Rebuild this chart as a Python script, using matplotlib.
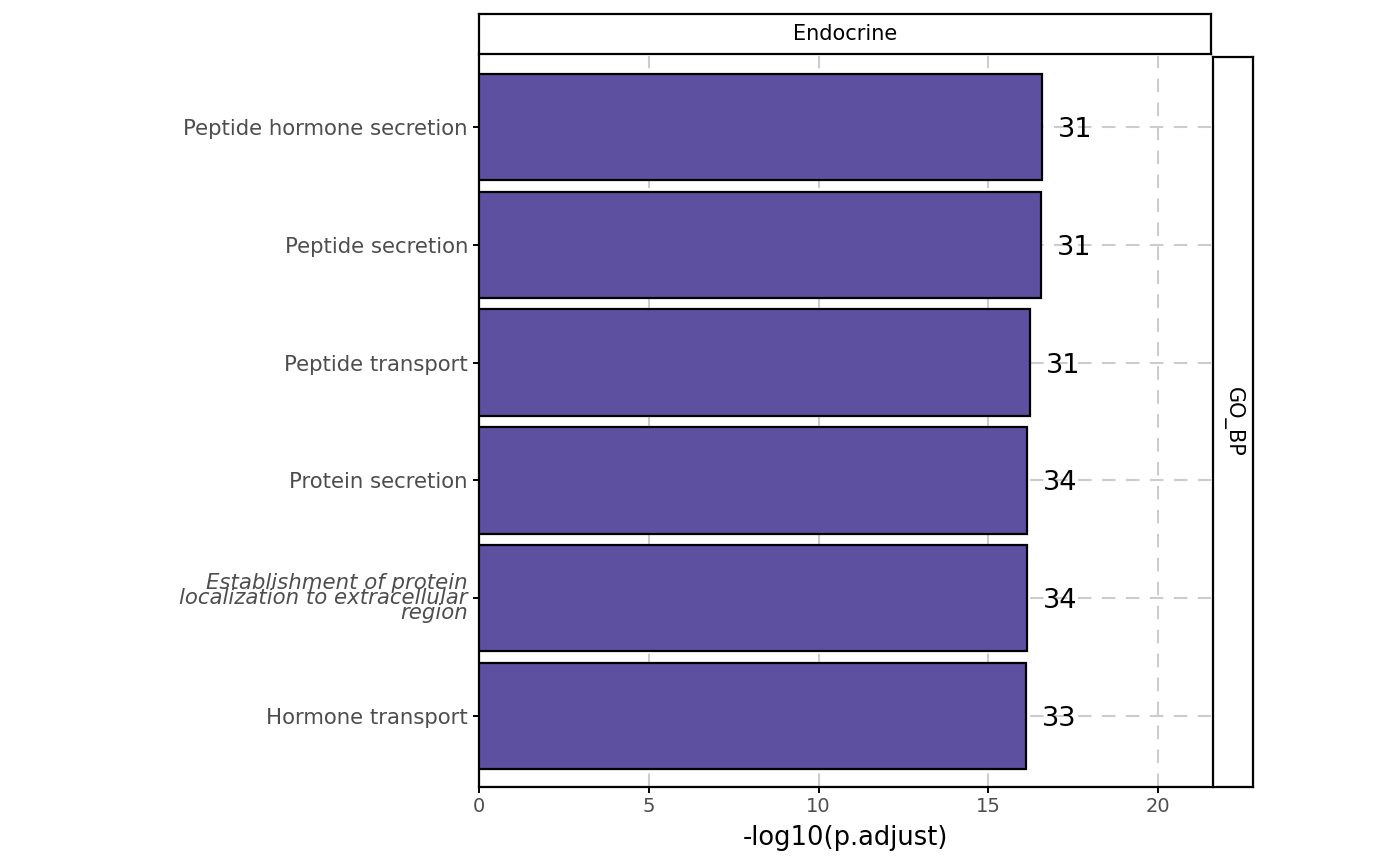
import matplotlib
matplotlib.use('Agg')
import matplotlib.pyplot as plt

# данные
terms = ['Peptide hormone secretion', 'Peptide secretion', 'Peptide transport',
         'Protein secretion',
         'Establishment of protein\nlocalization to extracellular\nregion',
         'Hormone transport']
neg_log_padj = [16.58, 16.55, 16.23, 16.14, 16.14, 16.11]
counts = [31, 31, 31, 34, 34, 33]
italic_terms = [False, False, False, False, True, False]
col_label = 'Endocrine'
row_label = 'GO_BP'

bar_color = '#5E50A1'
grid_color = '#CCCCCC'

fig = plt.figure(figsize=(14, 8.66), dpi=100)

# основная панель
ax = fig.add_axes([479 / 1400, 1 - 787 / 866, (1211 - 479) / 1400, (787 - 56) / 866])
ypos = list(range(len(terms)))
ax.barh(ypos, neg_log_padj, height=0.9, color=bar_color, edgecolor='black',
        linewidth=1.6, zorder=3)

for y, v, c in zip(ypos, neg_log_padj, counts):
    ax.text(v + 0.97, y, str(c), ha='center', va='center_baseline', fontsize=19.5,
            color='black', zorder=4)

ax.set_xlim(0, 21.56)
ax.set_ylim(len(terms) - 0.4, -0.6)
ax.set_xticks([0, 5, 10, 15, 20])
ax.set_yticks(ypos)
ax.set_yticklabels(terms)
for lab, it in zip(ax.get_yticklabels(), italic_terms):
    if it:
        lab.set_fontstyle('italic')
        lab.set_linespacing(0.7)

ax.tick_params(axis='y', labelsize=15.3, colors='black', labelcolor='#4D4D4D',
               length=4, width=1.4, pad=4)
ax.tick_params(axis='x', labelsize=14, colors='black', labelcolor='#4D4D4D',
               length=4, width=1.4, pad=3)
ax.set_xlabel('-log10(p.adjust)', fontsize=18.5, labelpad=7)

ax.grid(True, color=grid_color, linestyle=(0, (6.5, 5)), linewidth=1.5, zorder=0)
ax.set_axisbelow(True)
for s in ['top', 'right']:
    ax.spines[s].set_visible(False)
for s in ['left', 'bottom']:
    ax.spines[s].set_linewidth(1.6)
    ax.spines[s].set_color('black')

# верхняя полоска фасета
sx = fig.add_axes([479 / 1400, 1 - 54 / 866, (1211 - 479) / 1400, 40 / 866])
sx.set_xticks([])
sx.set_yticks([])
for s in sx.spines.values():
    s.set_linewidth(1.6)
sx.text(0.5, 0.5, col_label, ha='center', va='center', fontsize=15,
        transform=sx.transAxes)

# правая полоска фасета
sy = fig.add_axes([1213 / 1400, 1 - 787 / 866, 40 / 1400, (787 - 57) / 866])
sy.set_xticks([])
sy.set_yticks([])
for s in sy.spines.values():
    s.set_linewidth(1.6)
sy.text(0.5, 0.5, row_label, ha='center', va='center', fontsize=15,
        rotation=-90, transform=sy.transAxes)

fig.savefig('out.png', dpi=100)
